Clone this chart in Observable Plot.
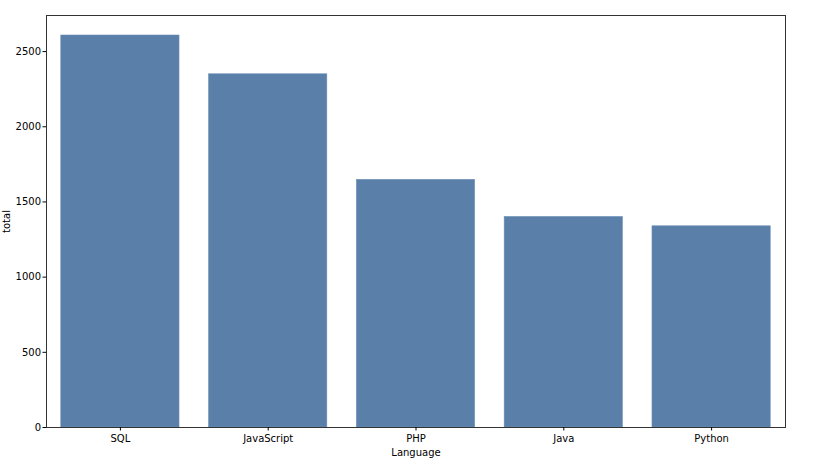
<!DOCTYPE html>
<html><head><meta charset="utf-8">
<script src="https://cdn.jsdelivr.net/npm/d3@7"></script>
<script src="https://cdn.jsdelivr.net/npm/@observablehq/plot@0.6"></script>
<style>body{margin:0;background:#fff;} svg{display:block;}</style>
</head><body><div id="chart"></div>
<script>
const languages = ["SQL", "JavaScript", "PHP", "Java", "Python"];
const totals = [2607, 2349, 1647, 1400, 1338];
const yTicks = [0, 500, 1000, 1500, 2000, 2500];
const data = languages.map((l, i) => ({Language: l, total: totals[i]}));

const chart = Plot.plot({
  width: 825, height: 464,
  marginLeft: 46, marginRight: 40, marginTop: 15, marginBottom: 37,
  style: {fontFamily: "DejaVu Sans", fontSize: "10px", color: "#000", background: "#fff"},
  x: {domain: languages, paddingInner: 0.2, paddingOuter: 0.1, round: false},
  y: {domain: [0, 2740]},
  marks: [
    Plot.barY(data, {x: "Language", y: "total", fill: "#5a7fa8", stroke: "#6a8fb8", strokeWidth: 0.6}),
    Plot.frame({stroke: "#333", strokeWidth: 1}),
    Plot.axisX({tickSize: 3.5, tickPadding: 4, label: "Language", labelAnchor: "center", labelArrow: false, labelOffset: 28, fontSize: 10}),
    Plot.axisY({ticks: yTicks, tickSize: 3.5, tickPadding: 2, tickFormat: d => String(d), label: "total", labelAnchor: "center", labelArrow: false, labelOffset: 44, fontSize: 10})
  ]
});
document.getElementById("chart").appendChild(chart);
</script>
</body></html>
